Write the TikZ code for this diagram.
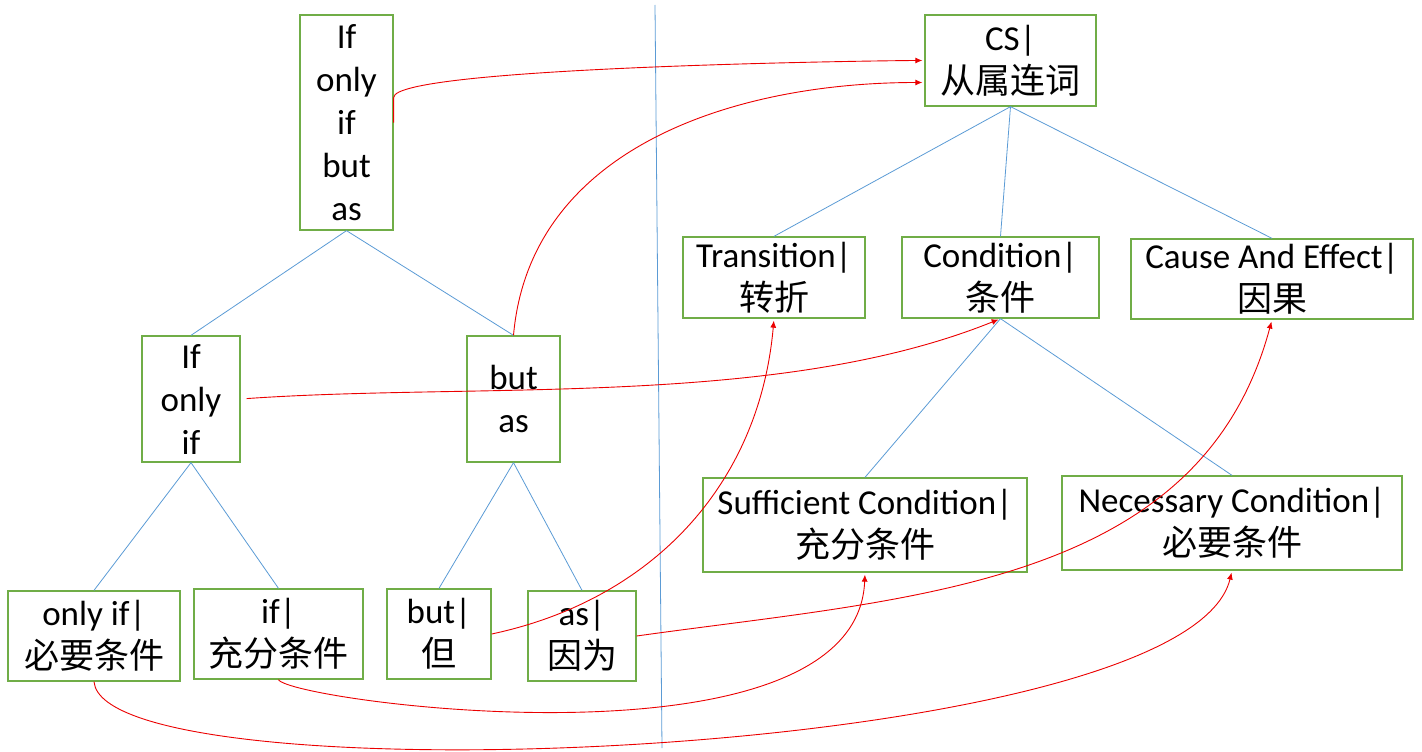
\documentclass[tikz,border=0pt]{standalone}
\usepackage{fontspec}
\setmainfont{Carlito}
\newfontfamily\cjk{Noto Sans CJK SC}
\usetikzlibrary{arrows.meta}
\definecolor{boxgreen}{RGB}{112,173,71}
\definecolor{treeblue}{RGB}{91,155,213}
\definecolor{linkred}{RGB}{235,0,0}
\newcommand{\zh}[1]{{\cjk\fontsize{35}{43}\selectfont #1}}

\begin{document}
\begin{tikzpicture}[
    x=1pt, y=-1pt,
    >={Latex[length=7pt,width=6pt]},
    box/.style={draw=boxgreen, line width=1.3pt, align=center, inner sep=0pt,
        font=\fontsize{35}{43}\selectfont},
    branch/.style={treeblue, line width=0.8pt},
    link/.style={->, linkred, line width=0.9pt, shorten >=2pt}
]
\useasboundingbox (0,0) rectangle (1422,752);

% separator
\coordinate (septop) at (655,5);
\coordinate (sepbot) at (662,748);
\draw[branch] (septop) -- (sepbot);

% left tree
\node[box, minimum width=93pt, minimum height=215pt] (root) at (346.5,122.5) {If\\only\\if\\but\\as};
\node[box, minimum width=98pt, minimum height=126pt] (ifonlyif) at (191,399) {If\\only\\if};
\node[box, minimum width=93pt, minimum height=126pt] (butas) at (513.5,399) {but\\as};
\node[box, minimum width=172pt, minimum height=90pt] (onlyif) at (94,636) {only if|\\\zh{必要条件}};
\node[box, minimum width=169pt, minimum height=90pt] (ifleaf) at (278.5,634) {if|\\\zh{充分条件}};
\node[box, minimum width=104pt, minimum height=90pt] (butleaf) at (439,634) {but|\\\zh{但}};
\node[box, minimum width=108pt, minimum height=90pt] (asleaf) at (582,636) {as|\\\zh{因为}};

% right tree
\node[box, minimum width=171pt, minimum height=91pt] (cs) at (1010.5,60.5) {CS|\\\zh{从属连词}};
\node[box, minimum width=182pt, minimum height=81pt] (transition) at (774,277.5) {Transition|\\\zh{转折}};
\node[box, minimum width=197pt, minimum height=81pt] (condition) at (1000.5,277.5) {Condition|\\\zh{条件}};
\node[box, minimum width=282pt, minimum height=80pt] (cause) at (1272,279) {Cause And Effect|\\\zh{因果}};
\node[box, minimum width=324pt, minimum height=94pt] (sufficient) at (865,525) {Sufficient Condition|\\\zh{充分条件}};
\node[box, minimum width=340pt, minimum height=94pt] (necessary) at (1232,523) {Necessary Condition|\\\zh{必要条件}};

\draw[branch] (root.south) -- (ifonlyif.north);
\draw[branch] (root.south) -- (butas.north);
\draw[branch] (ifonlyif.south) -- (onlyif.north);
\draw[branch] (ifonlyif.south) -- (ifleaf.north);
\draw[branch] (butas.south) -- (butleaf.north);
\draw[branch] (butas.south) -- (asleaf.north);
\draw[branch] (cs.south) -- (transition.north);
\draw[branch] (cs.south) -- (condition.north);
\draw[branch] (cs.south) -- (cause.north);
\draw[branch] (condition.south) -- (sufficient.north);
\draw[branch] (condition.south) -- (necessary.north);

% mappings
\draw[link] (root.east) -- ++(0,-25) to[out=90, in=180, looseness=0.15] (cs.west);
\draw[link] (butas.north) to[out=85, in=180] ([yshift=-22pt]cs.west);
\draw[link, shorten <=6pt] (ifonlyif.east) to[out=4, in=202, looseness=0.8] (condition.south);
\draw[link] (butleaf.east) to[out=12, in=-95] (transition.south);
\draw[link] (asleaf.east) to[out=8, in=-105] (cause.south);
\draw[link] (ifleaf.south) .. controls +(12,22) and +(-8,205) .. (sufficient.south);
\draw[link] (onlyif.south) .. controls +(10,120) and +(-45,190) .. (necessary.south);

\end{tikzpicture}
\end{document}
